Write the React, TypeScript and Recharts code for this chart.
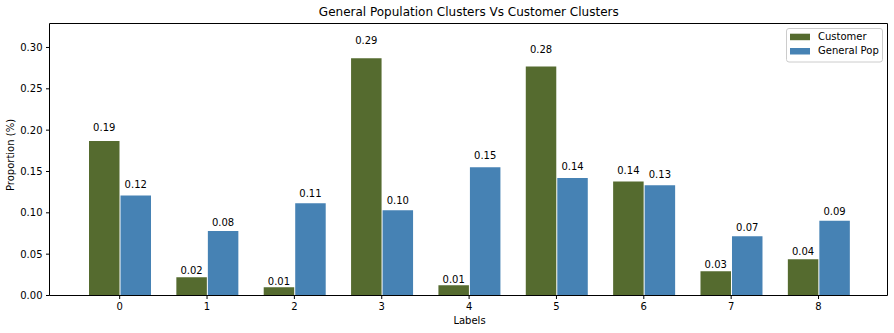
import React from 'react';
import { BarChart, Bar, XAxis, YAxis, Legend, LabelList, Label, CartesianGrid } from 'recharts';

const categories = ['0', '1', '2', '3', '4', '5', '6', '7', '8'];
const customerValues = [0.187, 0.022, 0.010, 0.287, 0.0125, 0.277, 0.138, 0.0294, 0.0439];
const generalPopValues = [0.121, 0.078, 0.1117, 0.1032, 0.155, 0.142, 0.1334, 0.0717, 0.0903];
const yTicks = [0, 0.05, 0.1, 0.15, 0.2, 0.25, 0.3];
const seriesNames = ['Customer', 'General Pop'];
const seriesColors = ['#556B2F', '#4682B4'];
const titleText = 'General Population Clusters Vs Customer Clusters';
const xLabelText = 'Labels';
const yLabelText = 'Proportion (%)';

const data = categories.map((c, i) => ({
  label: c,
  customer: customerValues[i],
  general: generalPopValues[i],
}));

const FONT = '"DejaVu Sans", sans-serif';
const TEXT = '#000';

const ValueLabel = (props: any) => {
  const { x, y, width, height, value } = props;
  const cx = Number(x) + Number(width) / 2;
  const ty = Number(y) - 0.05 * Number(height) - 2;
  return (
    <text x={cx} y={ty} textAnchor="middle" fontSize={10} fontFamily={FONT} fill={TEXT}>
      {Number(value).toFixed(2)}
    </text>
  );
};

const LegendBox = () => (
  <svg width={97} height={35} style={{ display: 'block' }}>
    <rect x={0.5} y={0.5} width={96} height={33.5} rx={2.5} ry={2.5} fill="rgba(255,255,255,0.8)" stroke="#cccccc" strokeWidth={1} />
    {seriesNames.map((n, i) => (
      <g key={n}>
        <rect x={4} y={5.7 + i * 14.3} width={20} height={6.5} fill={seriesColors[i]} />
        <text x={32} y={12.3 + i * 14.1} fontSize={10} fontFamily={FONT} fill={TEXT}>
          {n}
        </text>
      </g>
    ))}
  </svg>
);

export default function App() {
  return (
    <div style={{ position: 'absolute', left: 0, top: 0, width: 894, height: 333, background: '#fff' }}>
      <BarChart
        width={894}
        height={333}
        data={data}
        margin={{ top: 23.5, right: 6.5, left: 0, bottom: 7.5 }}
        barSize={30.5}
        barGap={1}
      >
        <CartesianGrid
          stroke="#000"
          horizontalPoints={[23.5]}
          verticalPoints={[887.5]}
        />
        <XAxis
          dataKey="label"
          height={30}
          padding={{ left: 26.5, right: 25.3 }}
          tickSize={3.5}
          tickMargin={3.5}
          stroke="#000"
          tickLine={{ stroke: '#000' }}
          axisLine={{ stroke: '#000' }}
          tick={{ fontSize: 10, fontFamily: FONT, fill: TEXT }}
        >
          <Label
            content={() => (
              <text x={469.5} y={324} textAnchor="middle" fontSize={10} fontFamily={FONT} fill={TEXT}>
                {xLabelText}
              </text>
            )}
          />
        </XAxis>
        <YAxis
          width={49.5}
          domain={[0, 0.329]}
          allowDataOverflow
          ticks={yTicks}
          tickFormatter={(v: number) => v.toFixed(2)}
          tickSize={3.5}
          tickMargin={3.5}
          tickLine={{ stroke: '#000' }}
          axisLine={{ stroke: '#000' }}
          tick={{ fontSize: 10, fontFamily: FONT, fill: TEXT }}
        >
          <Label
            content={() => (
              <text
                x={14.3}
                y={155}
                textAnchor="middle"
                fontSize={10}
                fontFamily={FONT}
                fill={TEXT}
                transform="rotate(-90, 14.3, 155)"
              >
                {yLabelText}
              </text>
            )}
          />
          <Label
            content={() => (
              <text x={468.8} y={16} textAnchor="middle" fontSize={12} fontFamily={FONT} fill={TEXT}>
                {titleText}
              </text>
            )}
          />
        </YAxis>
        <Legend
          layout="vertical"
          align="center"
          verticalAlign="middle"
          content={() => <LegendBox />}
          wrapperStyle={{ position: 'absolute', left: 786, top: 28, width: 97, height: 35 }}
        />
        <Bar dataKey="customer" name={seriesNames[0]} fill={seriesColors[0]} isAnimationActive={false}>
          <LabelList dataKey="customer" content={ValueLabel} />
        </Bar>
        <Bar dataKey="general" name={seriesNames[1]} fill={seriesColors[1]} isAnimationActive={false}>
          <LabelList dataKey="general" content={ValueLabel} />
        </Bar>
      </BarChart>
    </div>
  );
}
